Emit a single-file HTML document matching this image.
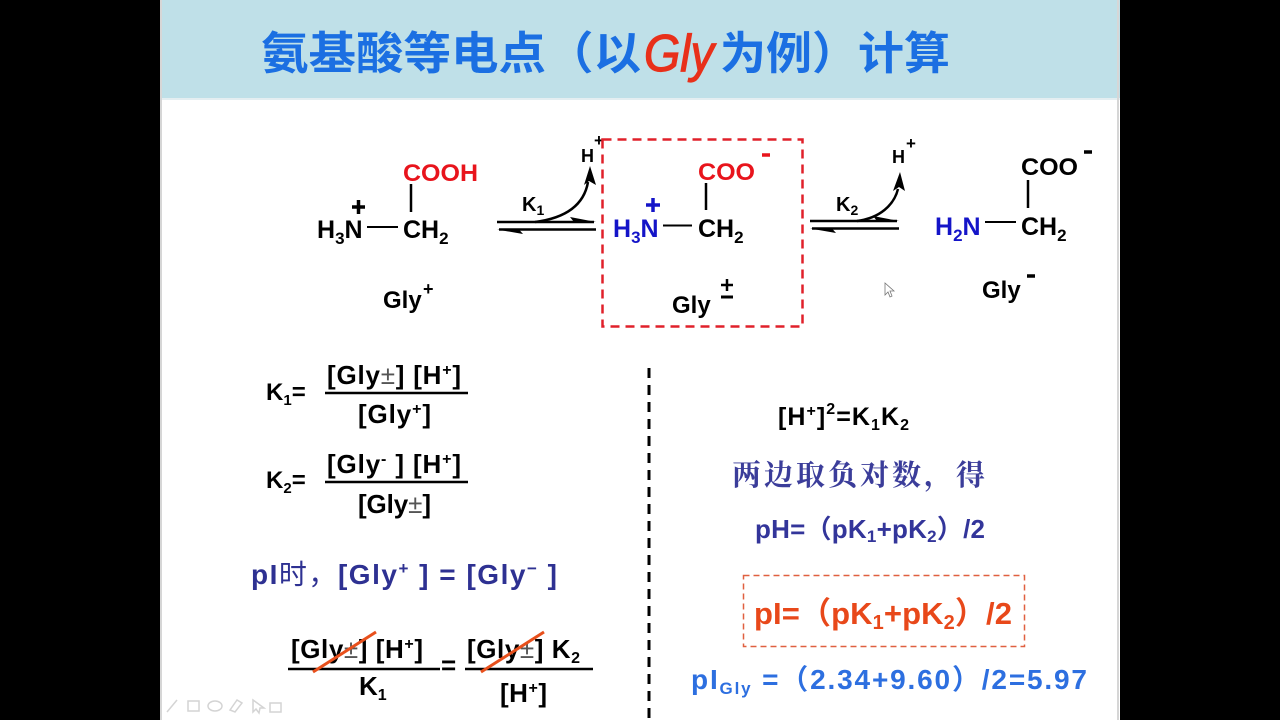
<!DOCTYPE html>
<html><head><meta charset="utf-8">
<style>
html,body{margin:0;padding:0;background:#000;width:1280px;height:720px;overflow:hidden}
svg{display:block}
</style></head><body>
<svg width="1280" height="720" viewBox="0 0 1280 720" xmlns="http://www.w3.org/2000/svg">
<rect width="1280" height="720" fill="#000"/>
<rect x="160" y="0" width="960" height="720" fill="#fff"/>
<rect x="160" y="0" width="960" height="98" fill="#bfe0e8"/>
<line x1="160" y1="99" x2="1120" y2="99" stroke="#e4eef1" stroke-width="2"/>
<line x1="161" y1="0" x2="161" y2="720" stroke="#d6d6d6" stroke-width="2"/>
<line x1="1118" y1="0" x2="1118" y2="720" stroke="#d6d6d6" stroke-width="2"/>

<!-- Title -->
<g font-family="'Liberation Sans','Noto Sans CJK SC',sans-serif">
<text x="261" y="69" font-size="45" fill="#1b6fe2" font-weight="bold" textLength="380" lengthAdjust="spacingAndGlyphs" font-family="'Noto Sans CJK SC',sans-serif">氨基酸等电点（以</text>
<text x="644" y="71" font-size="52" fill="#e8301a" stroke="#e8301a" stroke-width="1.2" font-style="italic" textLength="70" lengthAdjust="spacingAndGlyphs">Gly</text>
<text x="720" y="69" font-size="45" fill="#1b6fe2" font-weight="bold" textLength="230" lengthAdjust="spacingAndGlyphs" font-family="'Noto Sans CJK SC',sans-serif">为例）计算</text>
</g>

<g font-family="'Liberation Sans',Arial,sans-serif" font-weight="bold">
<!-- Gly+ -->
<line x1="352" y1="207" x2="365" y2="207" stroke="#000" stroke-width="3.5"/>
<line x1="358.5" y1="200" x2="358.5" y2="214" stroke="#000" stroke-width="3.5"/>
<text x="317" y="238" font-size="25" fill="#000">H<tspan font-size="17" dy="6">3</tspan><tspan dy="-6">N</tspan></text>
<line x1="367" y1="227" x2="398" y2="227" stroke="#000" stroke-width="2"/>
<text x="403" y="238" font-size="25" fill="#000">CH<tspan font-size="17" dy="6">2</tspan></text>
<line x1="411" y1="184" x2="411" y2="212" stroke="#000" stroke-width="2.5"/>
<text x="403" y="181" font-size="24.5" fill="#e8141c" textLength="75" lengthAdjust="spacingAndGlyphs">COOH</text>
<text x="383" y="308" font-size="24" fill="#000">Gly</text>
<text x="423" y="295" font-size="18" fill="#000">+</text>

<!-- Arrows 1 -->
<line x1="497" y1="222" x2="594" y2="222" stroke="#000" stroke-width="2.5"/>
<polygon points="596,222 570,217 574,222" fill="#000"/>
<line x1="499" y1="229.5" x2="596" y2="229.5" stroke="#000" stroke-width="2.5"/>
<polygon points="497,229.5 523,234 519,229.5" fill="#000"/>
<path d="M535 222 C566 218 584 205 588 182" fill="none" stroke="#000" stroke-width="2.5"/>
<polygon points="590,166 584,185 589,181 596,185" fill="#000"/>
<text x="522" y="211" font-size="20" fill="#000">K<tspan font-size="14" dy="4">1</tspan></text>
<text x="581" y="162" font-size="18" fill="#000">H</text>
<text x="594" y="146" font-size="17" fill="#000">+</text>

<!-- Dashed box -->
<rect x="602.5" y="139.5" width="200" height="187" fill="none" stroke="#e0202a" stroke-width="2.5" stroke-dasharray="9 6"/>

<!-- Gly± -->
<line x1="646" y1="205" x2="660" y2="205" stroke="#1414c8" stroke-width="3.5"/>
<line x1="653" y1="198" x2="653" y2="212" stroke="#1414c8" stroke-width="3.5"/>
<text x="613" y="237" font-size="25" fill="#1414c8">H<tspan font-size="17" dy="6">3</tspan><tspan dy="-6">N</tspan></text>
<line x1="663" y1="225.5" x2="692" y2="225.5" stroke="#000" stroke-width="2"/>
<text x="698" y="237" font-size="25" fill="#000">CH<tspan font-size="17" dy="6">2</tspan></text>
<line x1="706" y1="183" x2="706" y2="210" stroke="#000" stroke-width="2.5"/>
<text x="698" y="180" font-size="24.5" fill="#e8141c" textLength="57" lengthAdjust="spacingAndGlyphs">COO</text>
<line x1="762" y1="155" x2="770" y2="155" stroke="#e8141c" stroke-width="3.5"/>
<text x="672" y="313" font-size="24" fill="#000">Gly</text>
<line x1="721" y1="285" x2="733" y2="285" stroke="#000" stroke-width="2.5"/>
<line x1="727" y1="279" x2="727" y2="291" stroke="#000" stroke-width="2.5"/>
<line x1="721" y1="297" x2="733" y2="297" stroke="#000" stroke-width="3"/>

<!-- Arrows 2 -->
<line x1="810" y1="221" x2="897" y2="221" stroke="#000" stroke-width="2.5"/>
<polygon points="899,221 873,216 877,221" fill="#000"/>
<line x1="812" y1="228.5" x2="899" y2="228.5" stroke="#000" stroke-width="2.5"/>
<polygon points="810,228.5 836,233 832,228.5" fill="#000"/>
<path d="M857 221 C880 218 894 205 898 189" fill="none" stroke="#000" stroke-width="2.5"/>
<polygon points="900,172 893,191 899,187 905,191" fill="#000"/>
<text x="836" y="211" font-size="20" fill="#000">K<tspan font-size="14" dy="4">2</tspan></text>
<text x="892" y="163" font-size="18" fill="#000">H</text>
<text x="906" y="149" font-size="17" fill="#000">+</text>

<!-- Gly- -->
<text x="935" y="235" font-size="25" fill="#1414c8">H<tspan font-size="17" dy="6">2</tspan><tspan dy="-6">N</tspan></text>
<line x1="985" y1="222" x2="1016" y2="222" stroke="#000" stroke-width="2"/>
<text x="1021" y="235" font-size="25" fill="#000">CH<tspan font-size="17" dy="6">2</tspan></text>
<line x1="1028" y1="180" x2="1028" y2="208" stroke="#000" stroke-width="2.5"/>
<text x="1021" y="175" font-size="24.5" fill="#000" textLength="57" lengthAdjust="spacingAndGlyphs">COO</text>
<line x1="1084" y1="152" x2="1092" y2="152" stroke="#000" stroke-width="3.5"/>
<text x="982" y="298" font-size="24" fill="#000">Gly</text>
<line x1="1027" y1="276" x2="1035" y2="276" stroke="#000" stroke-width="3.5"/>

<!-- cursor -->
<polygon points="885,283 885,295 888,292 890,297 892,296 890,291 894,291" fill="#fff" stroke="#777" stroke-width="0.8"/>

<!-- Divider -->
<line x1="649" y1="368" x2="649" y2="720" stroke="#000" stroke-width="3" stroke-dasharray="10 7"/>

<!-- K1 formula -->
<text x="266" y="400" font-size="24" fill="#000">K<tspan font-size="15" dy="5">1</tspan><tspan dy="-5">=</tspan></text>
<text x="327" y="384" font-size="26" fill="#000" textLength="134" lengthAdjust="spacing">[Gly<tspan font-weight="normal" fill="#555">±</tspan>] [H<tspan font-size="16" dy="-9">+</tspan><tspan dy="9">]</tspan></text>
<line x1="325" y1="393" x2="468" y2="393" stroke="#000" stroke-width="2.5"/>
<text x="358" y="423" font-size="26" fill="#000" textLength="73" lengthAdjust="spacing">[Gly<tspan font-size="16" dy="-9">+</tspan><tspan dy="9">]</tspan></text>

<!-- K2 formula -->
<text x="266" y="488" font-size="24" fill="#000">K<tspan font-size="15" dy="5">2</tspan><tspan dy="-5">=</tspan></text>
<text x="327" y="473" font-size="26" fill="#000" textLength="134" lengthAdjust="spacing">[Gly<tspan font-size="16" dy="-9">-</tspan><tspan dy="9"> ] [H</tspan><tspan font-size="16" dy="-9">+</tspan><tspan dy="9">]</tspan></text>
<line x1="325" y1="482" x2="468" y2="482" stroke="#000" stroke-width="2.5"/>
<text x="358" y="513" font-size="26" fill="#000" textLength="73" lengthAdjust="spacing">[Gly<tspan font-weight="normal" fill="#555">±</tspan>]</text>
</g>

<!-- pI line -->
<text x="251" y="584" font-size="28" fill="#2e3192" font-family="'Liberation Sans','Noto Sans CJK SC',sans-serif" font-weight="bold" textLength="306" lengthAdjust="spacing">pI<tspan font-weight="normal">时，</tspan>[Gly<tspan font-size="17" dy="-10">+</tspan><tspan dy="10"> ] = [Gly</tspan><tspan font-size="17" dy="-10">−</tspan><tspan dy="10"> ]</tspan></text>

<g font-family="'Liberation Sans',Arial,sans-serif" font-weight="bold">
<!-- bottom fraction -->
<text x="291" y="658" font-size="26" fill="#000" textLength="132" lengthAdjust="spacing">[Gly<tspan font-weight="normal" fill="#555">±</tspan>] [H<tspan font-size="16" dy="-9">+</tspan><tspan dy="9">]</tspan></text>
<line x1="288" y1="669" x2="440" y2="669" stroke="#000" stroke-width="2.5"/>
<text x="359" y="695" font-size="26" fill="#000">K<tspan font-size="16" dy="5">1</tspan></text>
<text x="441" y="674" font-size="26" fill="#000">=</text>
<text x="467" y="658" font-size="26" fill="#000" textLength="113" lengthAdjust="spacing">[Gly<tspan font-weight="normal" fill="#555">±</tspan>] K<tspan font-size="16" dy="5">2</tspan></text>
<line x1="465" y1="669" x2="593" y2="669" stroke="#000" stroke-width="2.5"/>
<text x="500" y="702" font-size="26" fill="#000" textLength="47" lengthAdjust="spacing">[H<tspan font-size="16" dy="-9">+</tspan><tspan dy="9">]</tspan></text>
<line x1="313" y1="672" x2="376" y2="632" stroke="#e8501c" stroke-width="3"/>
<line x1="481" y1="672" x2="544" y2="632" stroke="#e8501c" stroke-width="3"/>

<!-- right side -->
<text x="778" y="425" font-size="25" fill="#000" textLength="131" lengthAdjust="spacing">[H<tspan font-size="16" dy="-9">+</tspan><tspan dy="9">]</tspan><tspan font-size="16" dy="-11">2</tspan><tspan dy="11">=K</tspan><tspan font-size="16" dy="5">1</tspan><tspan dy="-5">K</tspan><tspan font-size="16" dy="5">2</tspan></text>
</g>

<text x="732" y="485" font-size="29" fill="#3b3d9a" font-family="'Noto Serif CJK SC','Noto Sans CJK SC',serif" font-weight="bold" textLength="253" lengthAdjust="spacing">两边取负对数，得</text>

<text x="755" y="538" font-size="26" fill="#33359a" font-family="'Liberation Sans','Noto Sans CJK SC',sans-serif" font-weight="bold" textLength="230" lengthAdjust="spacing">pH=（pK<tspan font-size="17" dy="4">1</tspan><tspan dy="-4">+pK</tspan><tspan font-size="17" dy="4">2</tspan><tspan dy="-4">）/2</tspan></text>

<rect x="743.5" y="575.5" width="281" height="71" fill="none" stroke="#e06040" stroke-width="1.5" stroke-dasharray="6 4"/>
<text x="754" y="624" font-size="31" fill="#e8481a" font-family="'Liberation Sans','Noto Sans CJK SC',sans-serif" font-weight="bold" textLength="258" lengthAdjust="spacing">pI=（pK<tspan font-size="20" dy="5">1</tspan><tspan dy="-5">+pK</tspan><tspan font-size="20" dy="5">2</tspan><tspan dy="-5">）/2</tspan></text>

<text x="691" y="689" font-size="28" fill="#2d6fe0" font-family="'Liberation Sans','Noto Sans CJK SC',sans-serif" font-weight="bold" textLength="396" lengthAdjust="spacing">pI<tspan font-size="17" dy="5">Gly</tspan><tspan dy="-5">  =（2.34+9.60）/2=5.97</tspan></text>

<!-- faint toolbar -->
<g fill="none" stroke="#d4d4d4" stroke-width="1.5">
<line x1="167" y1="712" x2="177" y2="700"/>
<rect x="188" y="701" width="11" height="10"/>
<ellipse cx="215" cy="706" rx="7" ry="5"/>
<polygon points="230,710 237,700 242,703 235,712"/>
<polygon points="253,700 253,712 256,709 259,713 260,708 264,708"/>
<rect x="270" y="703" width="11" height="9"/>
</g>
</svg>
</body></html>
